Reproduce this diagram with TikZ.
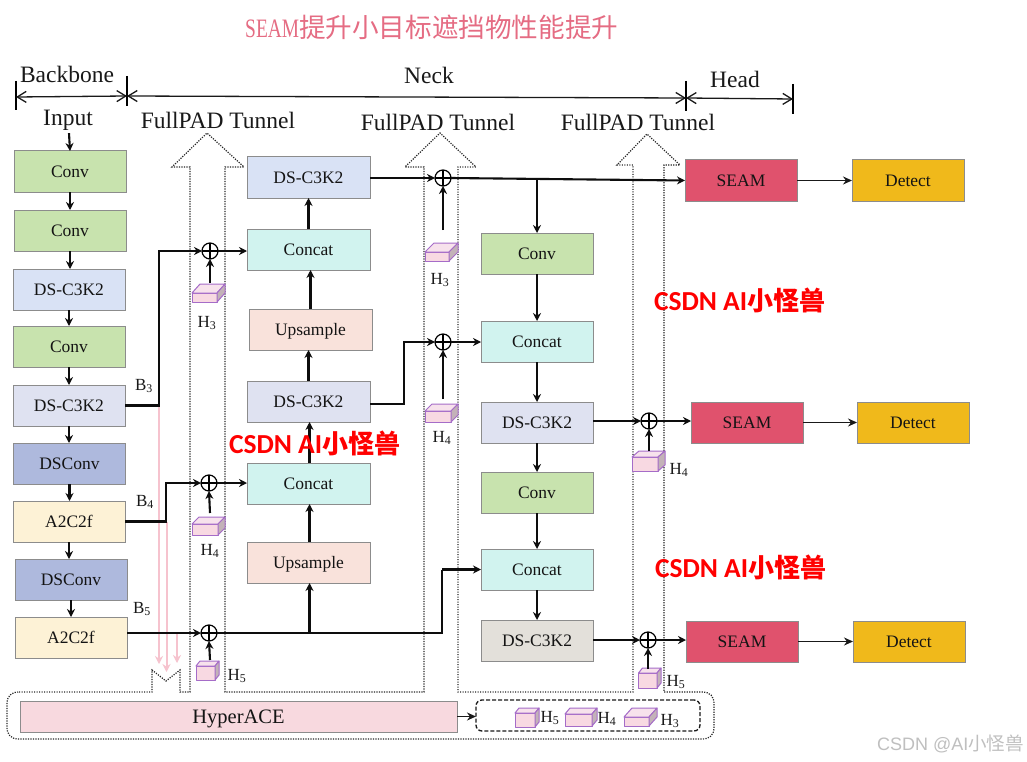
\documentclass[tikz,border=0pt]{standalone}
\usepackage{fontspec}
\setmainfont{Liberation Serif}
\newfontfamily\cjk{Noto Sans CJK SC}
\newfontfamily\carl{Carlito}
\usetikzlibrary{arrows.meta,calc}
\definecolor{cgreen}{HTML}{C8E3AE}
\definecolor{cblue}{HTML}{D9E2F5}
\definecolor{clav}{HTML}{DFE2F1}
\definecolor{cdsc}{HTML}{AEB9DD}
\definecolor{ca2c}{HTML}{FDF2D6}
\definecolor{ccon}{HTML}{D1F3EF}
\definecolor{cups}{HTML}{F9E2DB}
\definecolor{cgry}{HTML}{E3E0DA}
\definecolor{cseam}{HTML}{E0526D}
\definecolor{cdet}{HTML}{F0B91B}
\definecolor{chyp}{HTML}{F8D9DF}
\definecolor{cpink}{HTML}{F6C3CE}
\definecolor{cubeb}{HTML}{A56CC8}
\definecolor{cubef}{HTML}{F8D9E2}
\definecolor{cubes}{HTML}{C3B2B8}
\definecolor{cubet}{HTML}{F7E2EC}
\newcommand{\fsz}[1]{\fontsize{#1}{#1}\selectfont}
\newcommand{\cubefig}[6]{%
 \filldraw[cubeline,fill=cubef] (#1,#2) rectangle (#3,#4);
 \filldraw[cubeline,fill=cubet] (#1,#2) -- ({#1+#5},{#2-#6}) -- ({#3+#5},{#2-#6}) -- (#3,#2) -- cycle;
 \filldraw[cubeline,fill=cubes] (#3,#2) -- ({#3+#5},{#2-#6}) -- ({#3+#5},{#4-#6}) -- (#3,#4) -- cycle;
}
\tikzset{
 x=1pt,y=-1pt,
 box/.style={draw=black!45,line width=1pt,minimum width=112pt,minimum height=41pt,inner sep=0pt,outer sep=0pt,font=\fsz{17.5},text=black!92,text height=11.5pt,text depth=0pt},
 wide/.style={minimum width=123pt},
 plain/.style={inner sep=0pt,outer sep=0pt,text=black!90},
 head/.style={plain,font=\fsz{23.5}},
 sub/.style={plain,font=\fsz{17}},
 conn/.style={draw=black!95,line width=2.1pt,-{Stealth[length=8pt,width=8pt]}},
 flat/.style={draw=black!95,line width=2.1pt},
 thinar/.style={draw=black!90,line width=1.6pt,-{Stealth[length=9pt,width=8pt]}},
 plus/.style={circle,draw=black,line width=1.2pt,minimum size=16pt,inner sep=0pt,outer sep=0pt,
   path picture={\draw[black,line width=1.2pt] (path picture bounding box.north)--(path picture bounding box.south) (path picture bounding box.west)--(path picture bounding box.east);}},
 cubeline/.style={draw=cubeb,line width=1pt,line join=round},
 tunnel/.style={draw=black!85,line width=1.2pt,dash pattern=on 1.2pt off 1.3pt},
 dim/.style={draw=black!90,line width=1.3pt,{Straight Barb[length=9pt,width=11pt]}-{Straight Barb[length=9pt,width=11pt]}},
 tickm/.style={draw=black,line width=1.2pt},
 pinkarr/.style={draw=cpink,line width=2pt,-{Stealth[length=8pt,width=8pt]}},
 wmark/.style={inner sep=0pt,outer sep=0pt,text=red,font=\bfseries,anchor=west},
}
\begin{document}
\begin{tikzpicture}
\useasboundingbox (0,0) rectangle (1027,762);
\fill[white] (0,0) rectangle (1027,762);
% title
\node[inner sep=0pt,anchor=west,text=cseam!85!white] (title) at (245,27) {\fsz{26.6}\scalebox{.73}[1]{SEAM}\cjk 提升小目标遮挡物性能提升};
% headers
\node[head] (lbb) at (67,74) {Backbone};
\node[head] (lneck) at (429,75) {Neck};
\node[head] (lhead) at (735,79) {Head};
\node[head] (inp) at (68,120) {Input};
\node[head] (f1) at (218,120) {FullPAD Tunnel};
\node[head] (f2) at (438,122) {FullPAD Tunnel};
\node[head] (f3) at (638,122) {FullPAD Tunnel};
% dimension marks
\coordinate (d0) at (16,97); \coordinate (d1) at (127,96); \coordinate (d2) at (686,98); \coordinate (d3) at (793,99);
\draw[tickm] (16,81)--(16,110); \draw[tickm] (127,76)--(127,106); \draw[tickm] (686,81)--(686,111); \draw[tickm] (793,84)--(793,114);
\draw[dim] (d0)--(d1);
\draw[dim] (d1)--(d2);
\draw[dim] (d2)--(d3);
% tunnel outline
\draw[tunnel] (19,692) -- (152,692) -- (152,670) -- (166,681) -- (180,670) -- (180,692) -- (190,692)
 -- (190,167) -- (172,167) -- (207,133) -- (244,167) -- (225,167) -- (225,692) -- (424,692)
 -- (424,167) -- (405,167) -- (440,133) -- (476,167) -- (458,167) -- (458,692) -- (633,692)
 -- (633,165) -- (617,165) -- (647,134) -- (680,165) -- (664,165) -- (664,692) -- (702,692)
 .. controls (710,692) and (714,696) .. (714,704) -- (714,727)
 .. controls (714,735) and (710,739) .. (702,739) -- (19,739)
 .. controls (11,739) and (7,735) .. (7,727) -- (7,704)
 .. controls (7,696) and (11,692) .. (19,692) -- cycle;
% pink arrows
\coordinate (p1a) at (159,405); \coordinate (p1b) at (159,664);
\coordinate (p2a) at (166.5,522); \coordinate (p2b) at (166.5,672);
\coordinate (p3a) at (177,634); \coordinate (p3b) at (177,663);
\draw[pinkarr] (p1a)--(p1b);
\draw[pinkarr] (p2a)--(p2b);
\draw[pinkarr] (p3a)--(p3b);
% backbone
\node[box,fill=cgreen] (c1) at (70,171.5) {Conv};
\node[box,fill=cgreen] (c2) at (70,230.5) {Conv};
\node[box,fill=cblue] (b3) at (69,289.5) {DS-C3K2};
\node[box,fill=cgreen] (c3) at (69,346.5) {Conv};
\node[box,fill=clav] (b5) at (69,405.5) {DS-C3K2};
\node[box,fill=cdsc] (b6) at (69.5,463.5) {DSConv};
\node[box,fill=ca2c] (b7) at (69,521.5) {A2C2f};
\node[box,fill=cdsc] (b8) at (71,579.5) {DSConv};
\node[box,fill=ca2c] (b9) at (71,637.5) {A2C2f};
% neck column 1
\node[box,wide,fill=cblue] (n1) at (308.5,177.5) {DS-C3K2};
\node[box,wide,fill=ccon] (n2) at (308.5,249.5) {Concat};
\node[box,wide,fill=cups] (n3) at (310.5,329.5) {Upsample};
\node[box,wide,fill=clav] (n4) at (308.5,401.5) {DS-C3K2};
\node[box,wide,fill=ccon] (n5) at (308.5,483.5) {Concat};
\node[box,wide,fill=cups] (n6) at (308.5,562.5) {Upsample};
% neck column 2
\node[box,fill=cgreen] (m1) at (537,253.5) {Conv};
\node[box,fill=ccon] (m2) at (537,341.5) {Concat};
\node[box,fill=clav] (m3) at (537,422.5) {DS-C3K2};
\node[box,fill=cgreen] (m4) at (537,492.5) {Conv};
\node[box,fill=ccon] (m5) at (537,569.5) {Concat};
\node[box,fill=cgry] (m6) at (537,640.5) {DS-C3K2};
% head
\node[box,fill=cseam] (s1) at (741,180.5) {SEAM};
\node[box,fill=cseam] (s2) at (747,422.5) {SEAM};
\node[box,fill=cseam] (s3) at (742,641.5) {SEAM};
\node[box,fill=cdet] (t1) at (908,180.5) {Detect};
\node[box,fill=cdet] (t2) at (913,422.5) {Detect};
\node[box,fill=cdet] (t3) at (909,641.5) {Detect};
% HyperACE
\node[box,fill=chyp,minimum width=437pt,minimum height=31pt,font=\fsz{20.5},text height=13.5pt] (hy) at (238.5,716.5) {HyperACE};
\node[draw=black!90,line width=1.3pt,dash pattern=on 4pt off 2pt,rounded corners=6pt,minimum width=224pt,minimum height=31pt,inner sep=0pt,outer sep=0pt] (hb) at (588,715.5) {};
% plus
\node[plus] (o1) at (210,251) {};
\node[plus] (o2) at (443,178) {};
\node[plus] (o3) at (443,342) {};
\node[plus] (o4) at (649,421) {};
\node[plus] (o5) at (209,483) {};
\node[plus] (o6) at (209,633) {};
\node[plus] (o7) at (648,640) {};
% cubes
\cubefig{192}{293}{217}{302}{8}{9}
\cubefig{425}{252}{449}{261}{9}{9}
\cubefig{192}{524}{218}{535}{7}{7}
\cubefig{425}{411}{451}{422}{7}{7}
\cubefig{196}{666}{215}{680}{4}{5}
\cubefig{632}{457}{658}{471}{7}{6}
\cubefig{638.5}{673}{657}{688}{4}{5}
\cubefig{515}{713}{535}{727}{4}{5}
\cubefig{565}{714}{592}{726}{5}{6}
\cubefig{624}{717}{649}{726}{8}{9}
% cube labels
\node[sub] (h1) at (207,323) {H\textsubscript{3}};
\node[sub] (h2) at (440,280) {H\textsubscript{3}};
\node[sub] (h3) at (210,551) {H\textsubscript{4}};
\node[sub] (h4) at (442,438) {H\textsubscript{4}};
\node[sub] (h5) at (237,676) {H\textsubscript{5}};
\node[sub] (h6) at (679,470) {H\textsubscript{4}};
\node[sub] (h7) at (676,682) {H\textsubscript{5}};
\node[sub] (h8) at (550,718) {H\textsubscript{5}};
\node[sub] (h9) at (607,719) {H\textsubscript{4}};
\node[sub] (h10) at (670,721) {H\textsubscript{3}};
\node[sub] (lb3) at (144,386) {B\textsubscript{3}};
\node[sub] (lb4) at (145,502) {B\textsubscript{4}};
\node[sub] (lb5) at (142,609) {B\textsubscript{5}};
% cube feed points
\coordinate (q1) at (210,283); \coordinate (q2) at (443,230); \coordinate (q3) at (210,513);
\coordinate (q4) at (443,399); \coordinate (q5) at (210,660); \coordinate (q6) at (649,451); \coordinate (q7) at (648,669);
% junctions
\coordinate (j1) at (159,405.5); \coordinate (j2) at (159,251);
\coordinate (j3) at (166,521.5); \coordinate (j4) at (166,483);
\coordinate (j5) at (404,404); \coordinate (j6) at (404,342);
\coordinate (j7) at (309.5,633); \coordinate (j8) at (442,633); \coordinate (j9) at (442,569.5);
\coordinate (j10) at (537,179);
% backbone connectors
\draw[conn] (inp.south)++(1,3) -- (c1.north);
\draw[conn] (c1.south) -- (c1.south |- c2.north);
\draw[conn] (c2.south) -- (c2.south |- b3.north);
\draw[conn] (b3.south) -- (b3.south |- c3.north);
\draw[conn] (c3.south) -- (c3.south |- b5.north);
\draw[conn] (b5.south) -- (b5.south |- b6.north);
\draw[conn] (b6.south) -- (b6.south |- b7.north);
\draw[conn] (b7.south) -- (b7.south |- b8.north);
\draw[conn] (b8.south) -- (b8.south |- b9.north);
% to plus
\draw[conn] (b5.east) -- (j1) -- (j2) -- (o1.west);
\draw[conn] (b7.east) -- (j3) -- (j4) -- (o5.west);
\draw[conn] (b9.east |- o6.west) -- (o6.west);
\draw[conn] (o1.east) -- (n2.west |- o1.east);
\draw[conn] (o5.east) -- (n5.west |- o5.east);
% neck 1 connectors
\draw[conn] (n2.north) -- (n2.north |- n1.south);
\draw[conn] (n3.north) -- (n3.north |- n2.south);
\draw[conn] (n4.north) -- (n4.north |- n3.south);
\draw[conn] (n5.north) ++(1,0) -- ++(0,-41);
\draw[conn] (n6.north) ++(1,0) -- ++(0,-38);
\draw[flat] (o6.east) -- (j8) -- (j9);
\draw[conn] (j9) -- (m5.west |- j9);
\draw[conn] (j7) -- (n6.south -| j7);
\draw[conn] (n1.east |- o2.west) -- (o2.west);
\draw[conn] (o2.east) -- (s1.west);
\draw[conn] (j10) -- (m1.north);
\draw[conn] (n4.east |- j5) -- (j5) -- (j6) -- (o3.west);
\draw[conn] (o3.east) -- (m2.west |- o3.east);
% neck 2 connectors
\draw[conn] (m1.south) -- (m2.north);
\draw[conn] (m2.south) -- (m3.north);
\draw[conn] (m3.south) -- (m4.north);
\draw[conn] (m4.south) -- (m5.north);
\draw[conn] (m5.south) -- (m6.north);
\draw[conn] (m3.east |- o4.west) -- (o4.west);
\draw[conn] (o4.east) -- (s2.west |- o4.east);
\draw[conn] (m6.east |- o7.west) -- (o7.west);
\draw[conn] (o7.east) -- (s3.west |- o7.east);
% head
\draw[thinar] (s1.east) -- (t1.west);
\draw[thinar] (s2.east) -- (t2.west);
\draw[thinar] (s3.east) -- (t3.west);
\draw[thinar] (hy.east) -- (hb.west |- hy.east);
% cube feeds
\draw[conn] (q1) -- (o1.south);
\draw[conn] (q2) -- (o2.south);
\draw[conn] (q3) -- (o5.south);
\draw[conn] (q4) -- (o3.south);
\draw[conn] (q5) -- (o6.south);
\draw[conn] (q6) -- (o4.south);
\draw[conn] (q7) -- (o7.south);
% watermarks
\node[wmark] (w1) at (229,443) {\carl\fsz{27.5}\bfseries CSDN AI\cjk\fsz{26}\bfseries 小怪兽};
\node[wmark] (w2) at (654,300) {\carl\fsz{27.5}\bfseries CSDN AI\cjk\fsz{26}\bfseries 小怪兽};
\node[wmark] (w3) at (655,567) {\carl\fsz{27.5}\bfseries CSDN AI\cjk\fsz{26}\bfseries 小怪兽};
\node[inner sep=0pt,anchor=east,text=black!25] (w4) at (1024,744) {\fontspec{Liberation Sans}\fsz{18}CSDN @AI\cjk\fsz{18.5}小怪兽};
\end{tikzpicture}
\end{document}
